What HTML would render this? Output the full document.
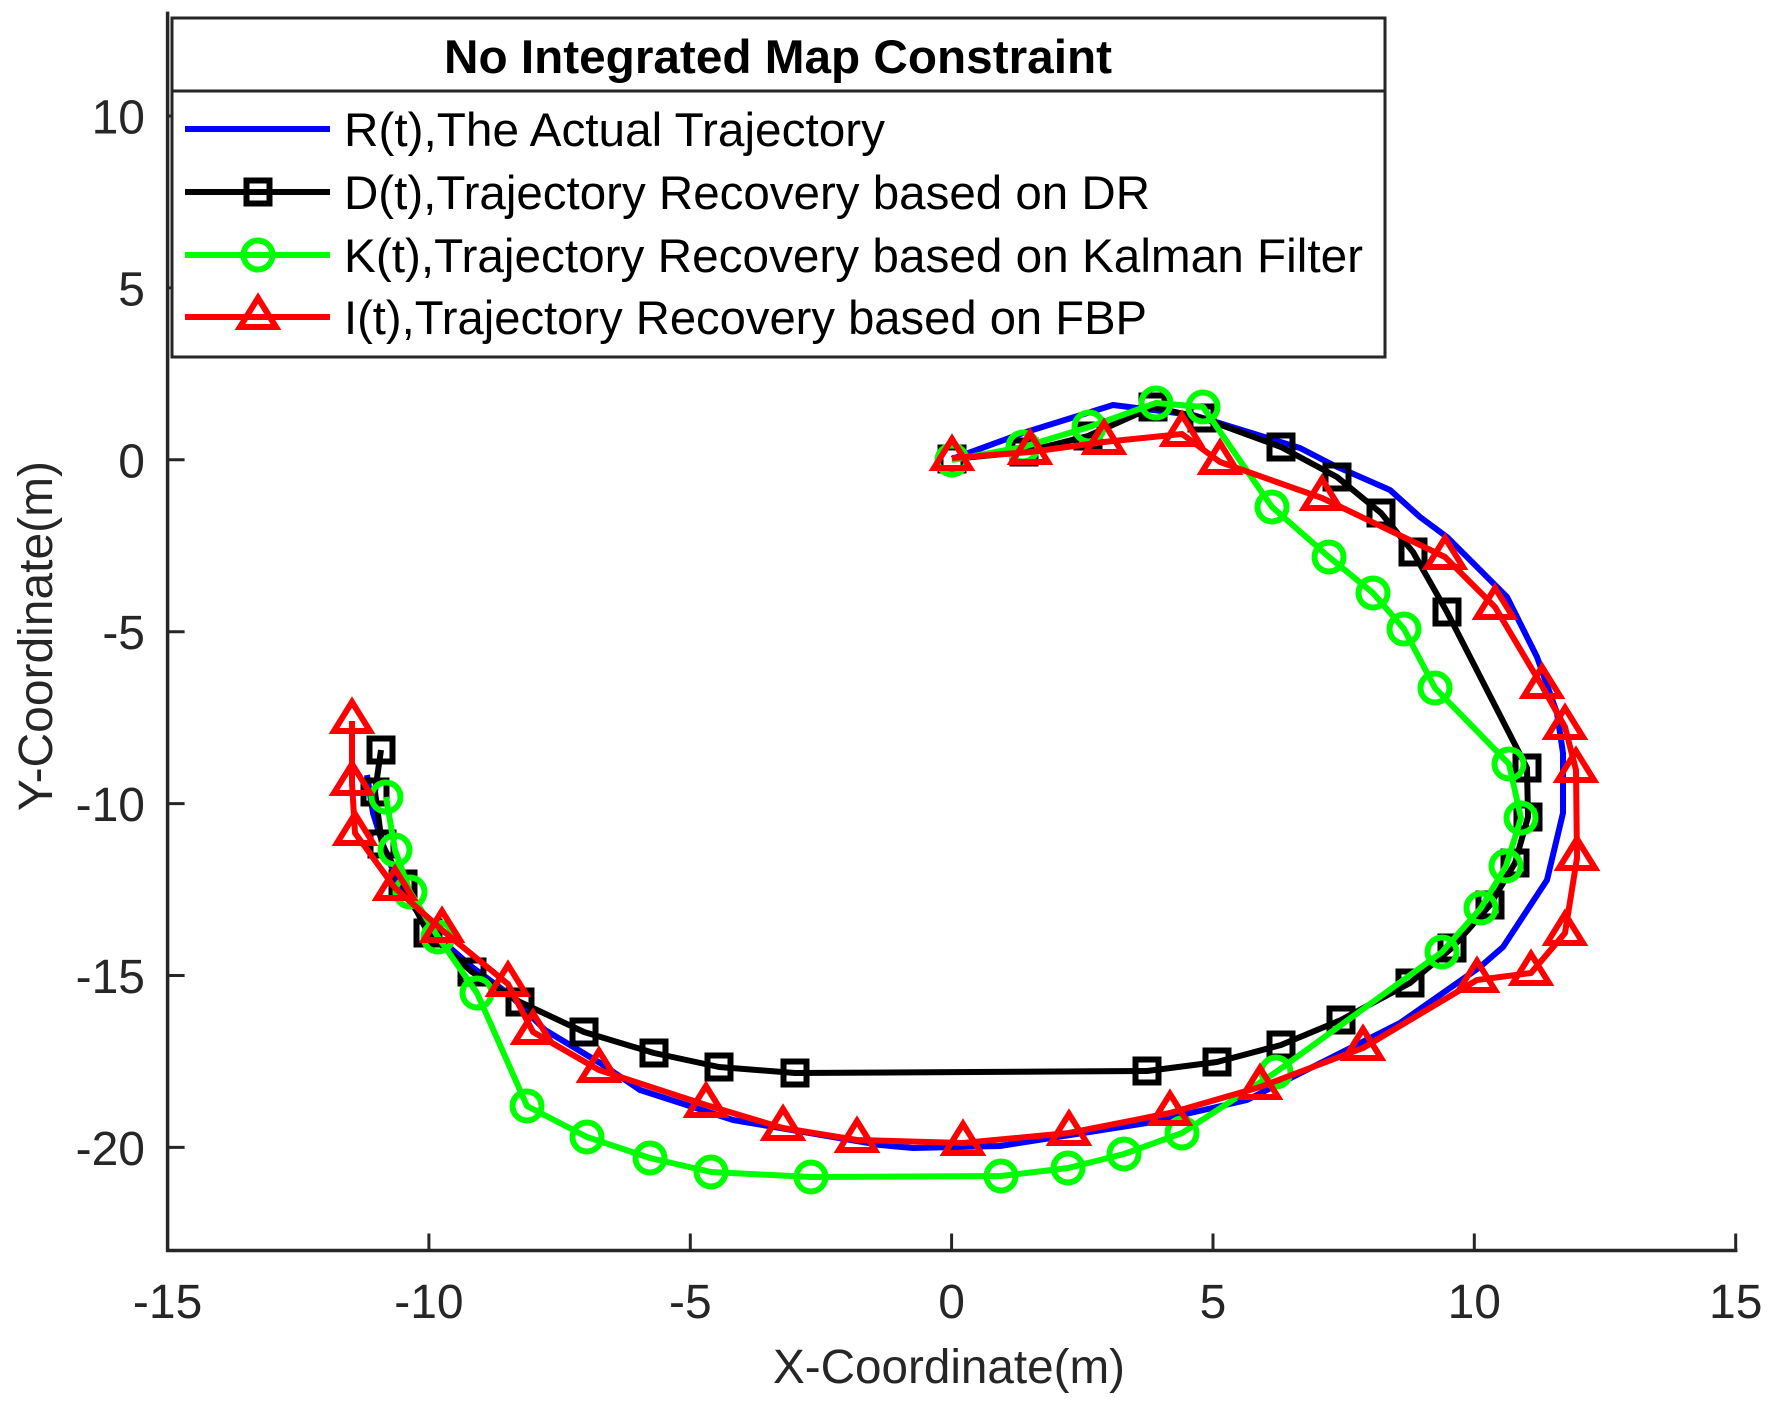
<!DOCTYPE html>
<html>
<head>
<meta charset="utf-8">
<style>
  html, body { margin: 0; padding: 0; background: #ffffff; }
  svg { display: block; }
  .tick { font-family: "Liberation Sans", Arial, sans-serif; font-size: 48px; fill: #262626; }
  .lab { font-family: "Liberation Sans", Arial, sans-serif; font-size: 48px; fill: #262626; }
  .leg { font-family: "Liberation Sans", Arial, sans-serif; font-size: 47px; fill: #000000; }
  .ttl { font-family: "Liberation Sans", Arial, sans-serif; font-size: 47px; font-weight: bold; fill: #000000; }
</style>
</head>
<body>
<svg width="1770" height="1405" viewBox="0 0 1770 1405" xmlns="http://www.w3.org/2000/svg">
  <defs>
    <marker id="sq" markerUnits="userSpaceOnUse" markerWidth="40" markerHeight="40" refX="20" refY="20" overflow="visible">
      <rect x="8.5" y="8.5" width="23" height="23" fill="none" stroke="#000000" stroke-width="6"/>
    </marker>
    <marker id="ci" markerUnits="userSpaceOnUse" markerWidth="40" markerHeight="40" refX="20" refY="20" overflow="visible">
      <circle cx="20" cy="20" r="14.5" fill="none" stroke="#00FF00" stroke-width="6"/>
    </marker>
    <marker id="tr" markerUnits="userSpaceOnUse" markerWidth="50" markerHeight="50" refX="25" refY="25" overflow="visible">
      <path d="M25,6 L43,35 L7,35 Z" fill="none" stroke="#FF0000" stroke-width="6" stroke-linejoin="miter"/>
    </marker>
  </defs>

  <rect x="0" y="0" width="1770" height="1405" fill="#ffffff"/>

  <!-- Series -->
  <g fill="none" stroke-width="6" stroke-linejoin="round" stroke-linecap="butt">
    <!-- R(t) blue -->
    <polyline stroke="#0000FF" points="367,775 373,813 383,845 400,888 432,932 472,967 510,995 545,1030 600,1063 640,1090 733,1120 880,1145 913,1148 1000,1146 1147,1123 1247,1100 1400,1023 1480,967 1503,947 1547,880 1563,813 1563,753 1557,713 1537,657 1507,597 1447,537 1420,517 1390,490 1333,465 1300,448 1193,415 1113,405 1023,433 952,459"/>
    <!-- D(t) black -->
    <polyline stroke="#000000" marker-start="url(#sq)" marker-mid="url(#sq)" marker-end="url(#sq)"
      points="952,459 1024,452 1088,436 1153,407 1202,418 1281,447 1337,477 1381,513 1413,552 1447,612 1527,768 1528,817 1515,863 1490,905 1452,948 1410,983 1341,1020 1281,1045 1217,1062 1147,1071 795,1073 719,1067 654,1053 584,1032 520,1002 472,972 428,933 403,884 382,844 375,792 381,750"/>
    <!-- K(t) green -->
    <polyline stroke="#00FF00" marker-start="url(#ci)" marker-mid="url(#ci)" marker-end="url(#ci)"
      points="952,460 1023,447 1089,427 1156,403 1203,407 1272,507 1329,557 1373,593 1404,629 1435,688 1509,764 1521,818 1506,866 1481,908 1442,952 1276,1072 1182,1133 1124,1154 1068,1168 1001,1176 811,1177 711,1172 650,1158 587,1137 527,1106 477,993 438,937 410,892 395,850 386,797"/>
    <!-- I(t) red -->
    <polyline stroke="#FF0000" marker-start="url(#tr)" marker-mid="url(#tr)" marker-end="url(#tr)"
      points="952,458 1030,452 1104,442 1182,434 1220,462 1322,498 1445,557 1495,607 1542,686 1565,727 1576,770 1577,858 1565,933 1531,973 1477,980 1363,1048 1260,1087 1170,1113 1069,1133 963,1143 857,1140 783,1128 706,1105 599,1070 533,1032 508,984 442,930 395,888 355,833 352,783 352,721"/>
  </g>

  <!-- Axes -->
  <g stroke="#262626" fill="none">
    <path d="M167.6,13.4 V1250.5 H1735.7" stroke-width="3.5" stroke-linecap="square"/>
    <g stroke-width="3">
      <!-- y ticks -->
      <line x1="167.6" y1="116.0" x2="184.6" y2="116.0"/>
      <line x1="167.6" y1="287.9" x2="184.6" y2="287.9"/>
      <line x1="167.6" y1="459.8" x2="184.6" y2="459.8"/>
      <line x1="167.6" y1="631.7" x2="184.6" y2="631.7"/>
      <line x1="167.6" y1="803.6" x2="184.6" y2="803.6"/>
      <line x1="167.6" y1="975.5" x2="184.6" y2="975.5"/>
      <line x1="167.6" y1="1147.4" x2="184.6" y2="1147.4"/>
      <!-- x ticks -->
      <line x1="428.9" y1="1250.5" x2="428.9" y2="1233.5"/>
      <line x1="690.3" y1="1250.5" x2="690.3" y2="1233.5"/>
      <line x1="951.6" y1="1250.5" x2="951.6" y2="1233.5"/>
      <line x1="1213.0" y1="1250.5" x2="1213.0" y2="1233.5"/>
      <line x1="1474.3" y1="1250.5" x2="1474.3" y2="1233.5"/>
      <line x1="1735.7" y1="1250.5" x2="1735.7" y2="1233.5"/>
    </g>
  </g>

  <!-- Y tick labels -->
  <g class="tick" text-anchor="end">
    <text x="145" y="133.5">10</text>
    <text x="145" y="305.4">5</text>
    <text x="145" y="477.3">0</text>
    <text x="145" y="649.2">-5</text>
    <text x="145" y="821.1">-10</text>
    <text x="145" y="993.0">-15</text>
    <text x="145" y="1164.9">-20</text>
  </g>
  <!-- X tick labels -->
  <g class="tick" text-anchor="middle">
    <text x="167.6" y="1318">-15</text>
    <text x="428.9" y="1318">-10</text>
    <text x="690.3" y="1318">-5</text>
    <text x="951.6" y="1318">0</text>
    <text x="1213.0" y="1318">5</text>
    <text x="1474.3" y="1318">10</text>
    <text x="1735.7" y="1318">15</text>
  </g>

  <!-- Axis labels -->
  <text class="lab" x="949" y="1383" text-anchor="middle" textLength="352" lengthAdjust="spacingAndGlyphs">X-Coordinate(m)</text>
  <text class="lab" transform="translate(52,636) rotate(-90)" x="0" y="0" text-anchor="middle" textLength="350" lengthAdjust="spacingAndGlyphs">Y-Coordinate(m)</text>

  <!-- Legend -->
  <rect x="172" y="18" width="1213" height="339" fill="#ffffff" stroke="#262626" stroke-width="3"/>
  <line x1="172" y1="91" x2="1385" y2="91" stroke="#262626" stroke-width="3"/>
  <text class="ttl" x="444" y="73" textLength="668" lengthAdjust="spacingAndGlyphs">No Integrated Map Constraint</text>

  <g fill="none" stroke-width="6">
    <line x1="185" y1="129" x2="330" y2="129" stroke="#0000FF"/>
    <line x1="185" y1="192" x2="330" y2="192" stroke="#000000"/>
    <rect x="246.5" y="180.5" width="23" height="23" stroke="#000000"/>
    <line x1="185" y1="255" x2="330" y2="255" stroke="#00FF00"/>
    <circle cx="258" cy="255" r="14.5" stroke="#00FF00"/>
    <line x1="185" y1="317" x2="330" y2="317" stroke="#FF0000"/>
    <path d="M258,298 L276,327 L240,327 Z" stroke="#FF0000" stroke-linejoin="miter"/>
  </g>

  <g class="leg">
    <text x="344" y="146" textLength="541" lengthAdjust="spacingAndGlyphs">R(t),The Actual Trajectory</text>
    <text x="344" y="209" textLength="806" lengthAdjust="spacingAndGlyphs">D(t),Trajectory Recovery based on DR</text>
    <text x="344" y="272" textLength="1019" lengthAdjust="spacingAndGlyphs">K(t),Trajectory Recovery based on Kalman Filter</text>
    <text x="344" y="334" textLength="803" lengthAdjust="spacingAndGlyphs">I(t),Trajectory Recovery based on FBP</text>
  </g>
</svg>
</body>
</html>
